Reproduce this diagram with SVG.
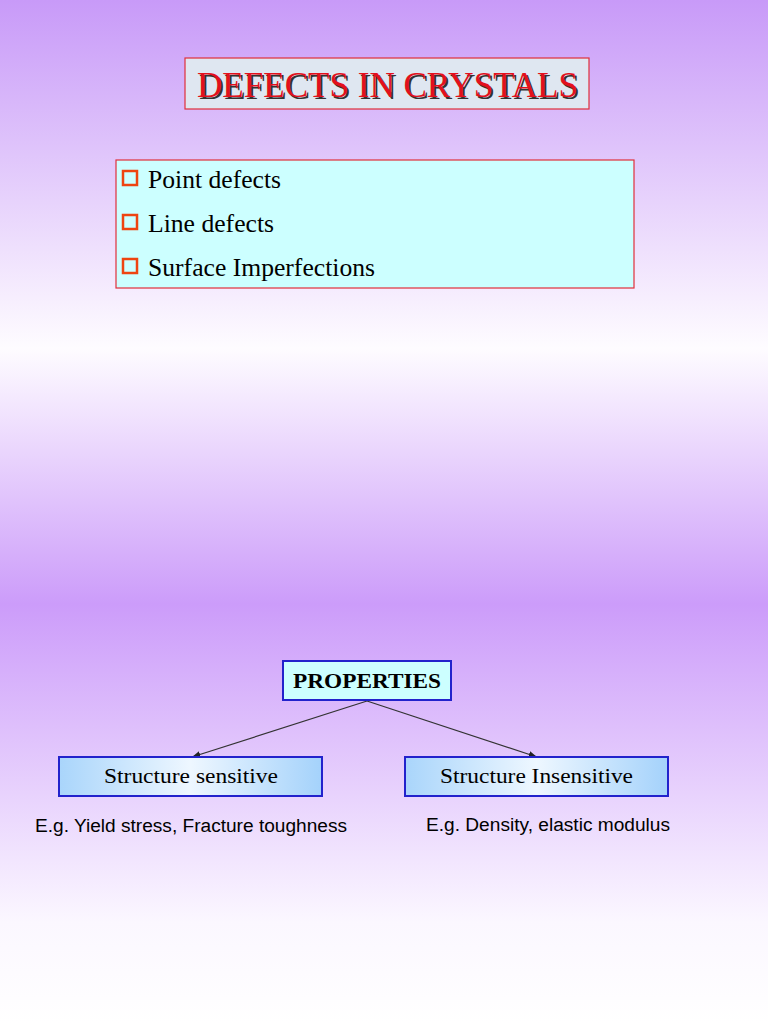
<svg xmlns="http://www.w3.org/2000/svg" width="768" height="1024" viewBox="0 0 768 1024">
<defs>
<linearGradient id="bg" x1="0" y1="0" x2="0" y2="1">
<stop offset="0" stop-color="#c89af8"/>
<stop offset="0.34" stop-color="#fefcff"/>
<stop offset="0.59" stop-color="#cc9cfa"/>
<stop offset="0.9" stop-color="#fbf7ff"/>
<stop offset="1" stop-color="#ffffff"/>
</linearGradient>
<linearGradient id="nb" x1="0" y1="0" x2="1" y2="0">
<stop offset="0" stop-color="#a9d5fb"/>
<stop offset="0.5" stop-color="#eef7ff"/>
<stop offset="1" stop-color="#a4d2fb"/>
</linearGradient>
<marker id="ah" viewBox="0 0 10 10" refX="10" refY="5" markerWidth="7" markerHeight="7" orient="auto">
<path d="M0,1 L10,5 L0,9 z" fill="#222"/>
</marker>
<style>
.serif{font-family:"Liberation Serif","Times New Roman",serif}
.sans{font-family:"Liberation Sans",Arial,sans-serif}
.bul{fill:none;stroke:#ee4411;stroke-width:2.5}
.cn{stroke:#333;stroke-width:1.2;fill:none;marker-end:url(#ah)}
.blue{stroke:#2222cc;stroke-width:2}
</style>
</defs>
<rect width="768" height="1024" fill="url(#bg)"/>
<g id="title">
<rect x="185" y="58" width="404" height="51" fill="#dfe7f1" stroke="#e0303a" stroke-width="1.2"/>
<text x="199" y="99" class="serif" font-size="35" fill="#333" textLength="381" lengthAdjust="spacingAndGlyphs">DEFECTS IN CRYSTALS</text>
<text x="197" y="97" class="serif" font-size="35" fill="#e3101c" textLength="381" lengthAdjust="spacingAndGlyphs">DEFECTS IN CRYSTALS</text>
</g>
<g id="defect-list">
<rect x="116" y="160" width="518" height="128" fill="#ccffff" stroke="#e0303a" stroke-width="1.2"/>
<rect x="123" y="171" width="14" height="14" class="bul"/>
<rect x="123" y="215" width="14" height="14" class="bul"/>
<rect x="123" y="259" width="14" height="14" class="bul"/>
<text x="148" y="188" class="serif" font-size="25.5" textLength="133" lengthAdjust="spacingAndGlyphs">Point defects</text>
<text x="148" y="232" class="serif" font-size="25.5" textLength="126" lengthAdjust="spacingAndGlyphs">Line defects</text>
<text x="148" y="276" class="serif" font-size="25.5" textLength="227" lengthAdjust="spacingAndGlyphs">Surface Imperfections</text>
</g>
<g id="connectors">
<line x1="367" y1="701" x2="192" y2="757" class="cn"/>
<line x1="367" y1="701" x2="537" y2="757" class="cn"/>
</g>
<g id="properties">
<rect x="283" y="661" width="168" height="39" fill="#ccffff" class="blue"/>
<text x="293" y="688" class="serif" font-size="21" font-weight="bold" textLength="148" lengthAdjust="spacingAndGlyphs">PROPERTIES</text>
</g>
<g id="sensitive">
<rect x="59" y="757" width="263" height="39" fill="url(#nb)" class="blue"/>
<text x="104" y="783" class="serif" font-size="21" textLength="174" lengthAdjust="spacingAndGlyphs">Structure sensitive</text>
</g>
<g id="insensitive">
<rect x="405" y="757" width="263" height="39" fill="url(#nb)" class="blue"/>
<text x="440" y="783" class="serif" font-size="21" textLength="193" lengthAdjust="spacingAndGlyphs">Structure Insensitive</text>
</g>
<text x="35" y="832" class="sans" font-size="18" textLength="312" lengthAdjust="spacingAndGlyphs">E.g. Yield stress, Fracture toughness</text>
<text x="426" y="831" class="sans" font-size="18" textLength="244" lengthAdjust="spacingAndGlyphs">E.g. Density, elastic modulus</text>
</svg>
